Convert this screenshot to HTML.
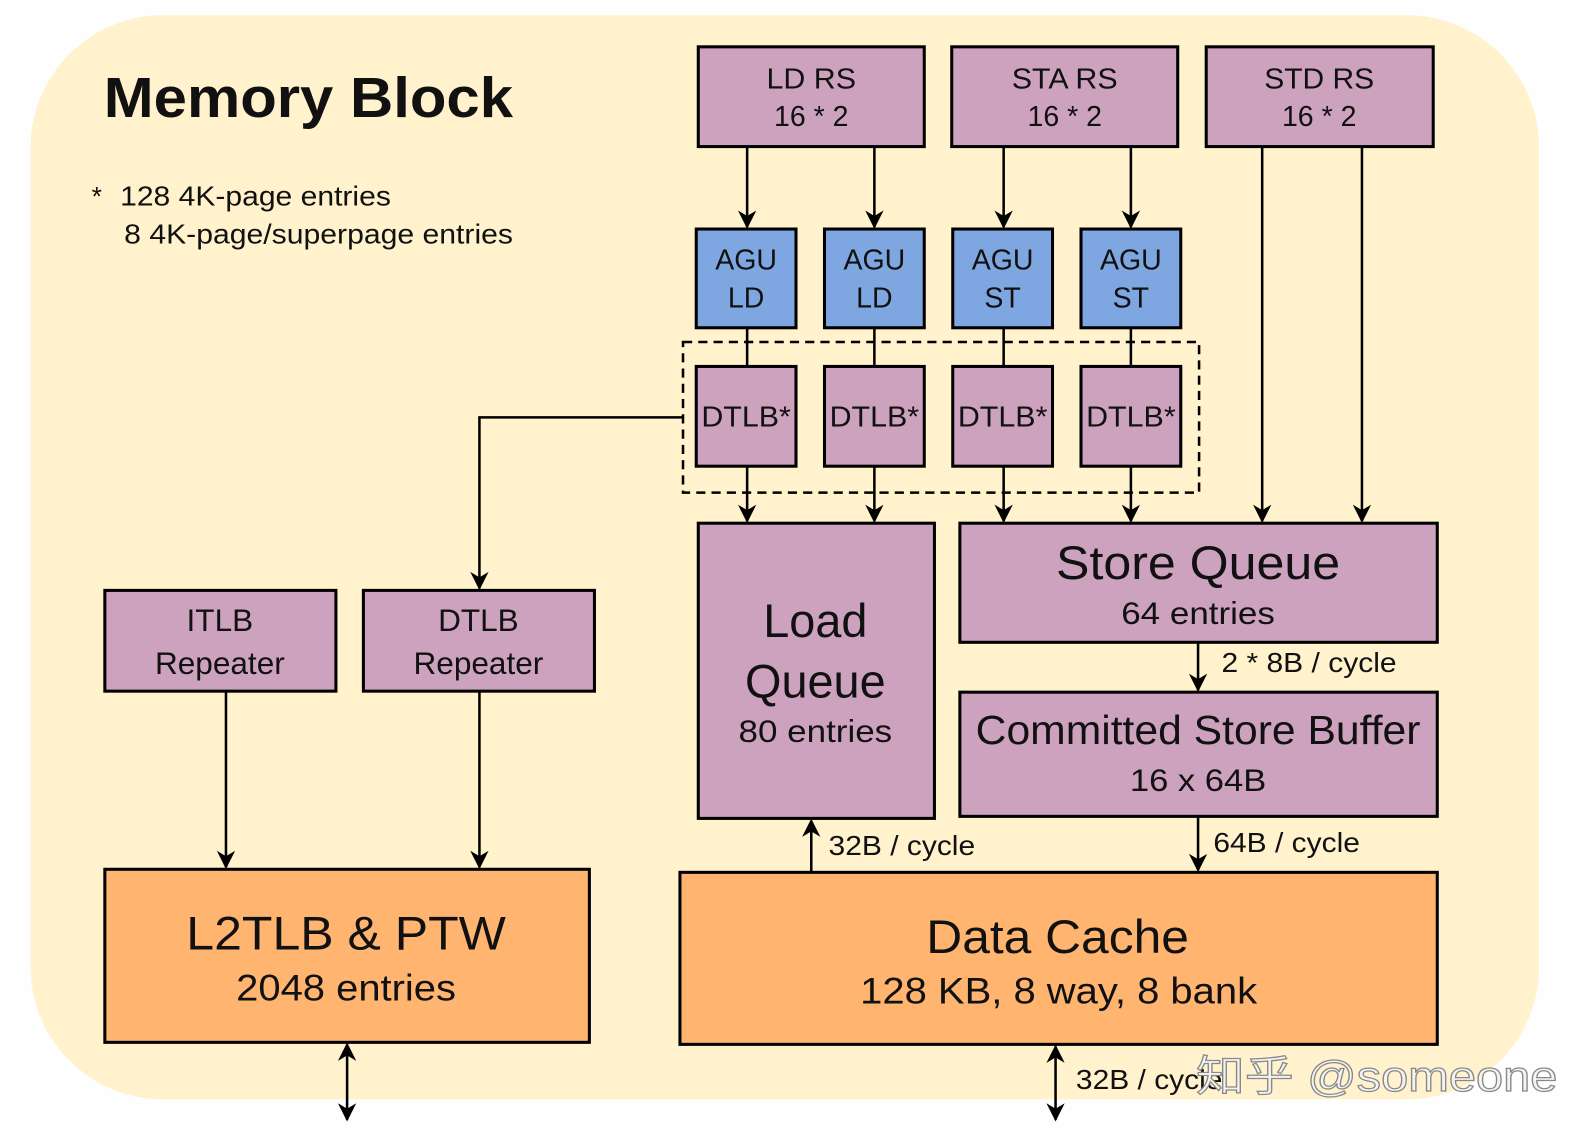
<!DOCTYPE html>
<html><head><meta charset="utf-8"><style>
html,body{margin:0;padding:0;background:#fefefe;}
svg{display:block;}
text{font-family:"Liberation Sans",Arial,sans-serif;fill:#111;}
</style></head><body>
<svg width="1596" height="1138" viewBox="0 0 1596 1138" xmlns="http://www.w3.org/2000/svg">
<defs>
<marker id="b" viewBox="0 0 10 10" refX="9" refY="5" markerWidth="18" markerHeight="18" markerUnits="userSpaceOnUse" orient="auto-start-reverse">
<path d="M0,0 L10,5 L0,10 L3,5 z" fill="#000"/></marker>
</defs>
<g transform="scale(1.0179)">
<rect x="30" y="15" width="1482" height="1065" rx="130" fill="#fff2cc"/>
<text x="102" y="115" font-size="56" font-weight="bold" textLength="402" lengthAdjust="spacingAndGlyphs">Memory Block</text>
<text x="90" y="202" font-size="26">*</text>
<text x="118" y="202" font-size="27" textLength="266" lengthAdjust="spacingAndGlyphs">128 4K-page entries</text>
<text x="122" y="239" font-size="27" textLength="382" lengthAdjust="spacingAndGlyphs">8 4K-page/superpage entries</text>

<g stroke="#000" stroke-width="3">
<rect x="686" y="46" width="222" height="98" fill="#cda2be"/>
<rect x="935" y="46" width="222" height="98" fill="#cda2be"/>
<rect x="1185" y="46" width="223" height="98" fill="#cda2be"/>
<rect x="684" y="225" width="98" height="97" fill="#7ea6e0"/>
<rect x="810" y="225" width="98" height="97" fill="#7ea6e0"/>
<rect x="936" y="225" width="98" height="97" fill="#7ea6e0"/>
<rect x="1062" y="225" width="98" height="97" fill="#7ea6e0"/>
<rect x="684" y="360" width="98" height="98" fill="#cda2be"/>
<rect x="810" y="360" width="98" height="98" fill="#cda2be"/>
<rect x="936" y="360" width="98" height="98" fill="#cda2be"/>
<rect x="1062" y="360" width="98" height="98" fill="#cda2be"/>
<rect x="686" y="514" width="232" height="290" fill="#cda2be"/>
<rect x="943" y="514" width="469" height="117" fill="#cda2be"/>
<rect x="943" y="680" width="469" height="122" fill="#cda2be"/>
<rect x="668" y="857" width="744" height="169" fill="#ffb570"/>
<rect x="103" y="854" width="476" height="170" fill="#ffb570"/>
<rect x="103" y="580" width="227" height="99" fill="#cda2be"/>
<rect x="357" y="580" width="227" height="99" fill="#cda2be"/>
</g>
<rect x="671" y="336" width="507" height="148" fill="none" stroke="#000" stroke-width="2.5" stroke-dasharray="9,6"/>

<g stroke="#000" stroke-width="2.5" fill="none">
<line x1="734" y1="144" x2="734" y2="223" marker-end="url(#b)"/>
<line x1="859" y1="144" x2="859" y2="223" marker-end="url(#b)"/>
<line x1="986" y1="144" x2="986" y2="223" marker-end="url(#b)"/>
<line x1="1111" y1="144" x2="1111" y2="223" marker-end="url(#b)"/>
<line x1="1240" y1="144" x2="1240" y2="512" marker-end="url(#b)"/>
<line x1="1338" y1="144" x2="1338" y2="512" marker-end="url(#b)"/>
<line x1="734" y1="322" x2="734" y2="360"/>
<line x1="859" y1="322" x2="859" y2="360"/>
<line x1="986" y1="322" x2="986" y2="360"/>
<line x1="1111" y1="322" x2="1111" y2="360"/>
<line x1="734" y1="458" x2="734" y2="512" marker-end="url(#b)"/>
<line x1="859" y1="458" x2="859" y2="512" marker-end="url(#b)"/>
<line x1="986" y1="458" x2="986" y2="512" marker-end="url(#b)"/>
<line x1="1111" y1="458" x2="1111" y2="512" marker-end="url(#b)"/>
<polyline points="671,410 471,410 471,578" marker-end="url(#b)"/>
<line x1="222" y1="679" x2="222" y2="852" marker-end="url(#b)"/>
<line x1="471" y1="679" x2="471" y2="852" marker-end="url(#b)"/>
<line x1="1177" y1="631" x2="1177" y2="678" marker-end="url(#b)"/>
<line x1="1177" y1="802" x2="1177" y2="855" marker-end="url(#b)"/>
<line x1="797" y1="857" x2="797" y2="806" marker-end="url(#b)"/>
<line x1="1037" y1="1028" x2="1037" y2="1100" marker-start="url(#b)" marker-end="url(#b)"/>
<line x1="341" y1="1026" x2="341" y2="1100" marker-start="url(#b)" marker-end="url(#b)"/>
</g>

<g text-anchor="middle" font-size="28">
<text x="797" y="87" textLength="88" lengthAdjust="spacingAndGlyphs">LD RS</text><text x="797" y="124">16 * 2</text>
<text x="1046" y="87" textLength="104" lengthAdjust="spacingAndGlyphs">STA RS</text><text x="1046" y="124">16 * 2</text>
<text x="1296" y="87" textLength="108" lengthAdjust="spacingAndGlyphs">STD RS</text><text x="1296" y="124">16 * 2</text>
<text x="733" y="265">AGU</text><text x="733" y="302">LD</text>
<text x="859" y="265">AGU</text><text x="859" y="302">LD</text>
<text x="985" y="265">AGU</text><text x="985" y="302">ST</text>
<text x="1111" y="265">AGU</text><text x="1111" y="302">ST</text>
<text x="733" y="419" textLength="88" lengthAdjust="spacingAndGlyphs">DTLB*</text>
<text x="859" y="419" textLength="88" lengthAdjust="spacingAndGlyphs">DTLB*</text>
<text x="985" y="419" textLength="88" lengthAdjust="spacingAndGlyphs">DTLB*</text>
<text x="1111" y="419" textLength="88" lengthAdjust="spacingAndGlyphs">DTLB*</text>
<text x="216" y="620" font-size="31">ITLB</text><text x="216" y="662" font-size="31">Repeater</text>
<text x="470" y="620" font-size="31">DTLB</text><text x="470" y="662" font-size="31">Repeater</text>
<text x="801" y="626" font-size="46">Load</text>
<text x="801" y="685" font-size="46">Queue</text>
<text x="801" y="729" font-size="31" textLength="151" lengthAdjust="spacingAndGlyphs">80 entries</text>
<text x="1177" y="569" font-size="46" textLength="279" lengthAdjust="spacingAndGlyphs">Store Queue</text>
<text x="1177" y="613" font-size="31" textLength="151" lengthAdjust="spacingAndGlyphs">64 entries</text>
<text x="1177" y="731" font-size="40" textLength="437" lengthAdjust="spacingAndGlyphs">Committed Store Buffer</text>
<text x="1177" y="777" font-size="31" textLength="134" lengthAdjust="spacingAndGlyphs">16 x 64B</text>
<text x="1039" y="936" font-size="46" textLength="258" lengthAdjust="spacingAndGlyphs">Data Cache</text>
<text x="1040" y="986" font-size="36" textLength="390" lengthAdjust="spacingAndGlyphs">128 KB, 8 way, 8 bank</text>
<text x="340" y="933" font-size="46" textLength="314" lengthAdjust="spacingAndGlyphs">L2TLB &amp; PTW</text>
<text x="340" y="983" font-size="36" textLength="216" lengthAdjust="spacingAndGlyphs">2048 entries</text>
</g>
<g font-size="27">
<text x="1200" y="660" textLength="172" lengthAdjust="spacingAndGlyphs">2 * 8B / cycle</text>
<text x="1192" y="837" textLength="144" lengthAdjust="spacingAndGlyphs">64B / cycle</text>
<text x="814" y="840" textLength="144" lengthAdjust="spacingAndGlyphs">32B / cycle</text>
<text x="1057" y="1070" textLength="144" lengthAdjust="spacingAndGlyphs">32B / cycle</text>
</g>
<text x="1175" y="1072" font-size="42" style="font-family:'Liberation Sans','Noto Sans CJK SC',sans-serif;fill:#f4f4f4;stroke:#888;stroke-width:1.2" textLength="355" lengthAdjust="spacingAndGlyphs">知乎 @someone</text>
</g>
</svg>
</body></html>
